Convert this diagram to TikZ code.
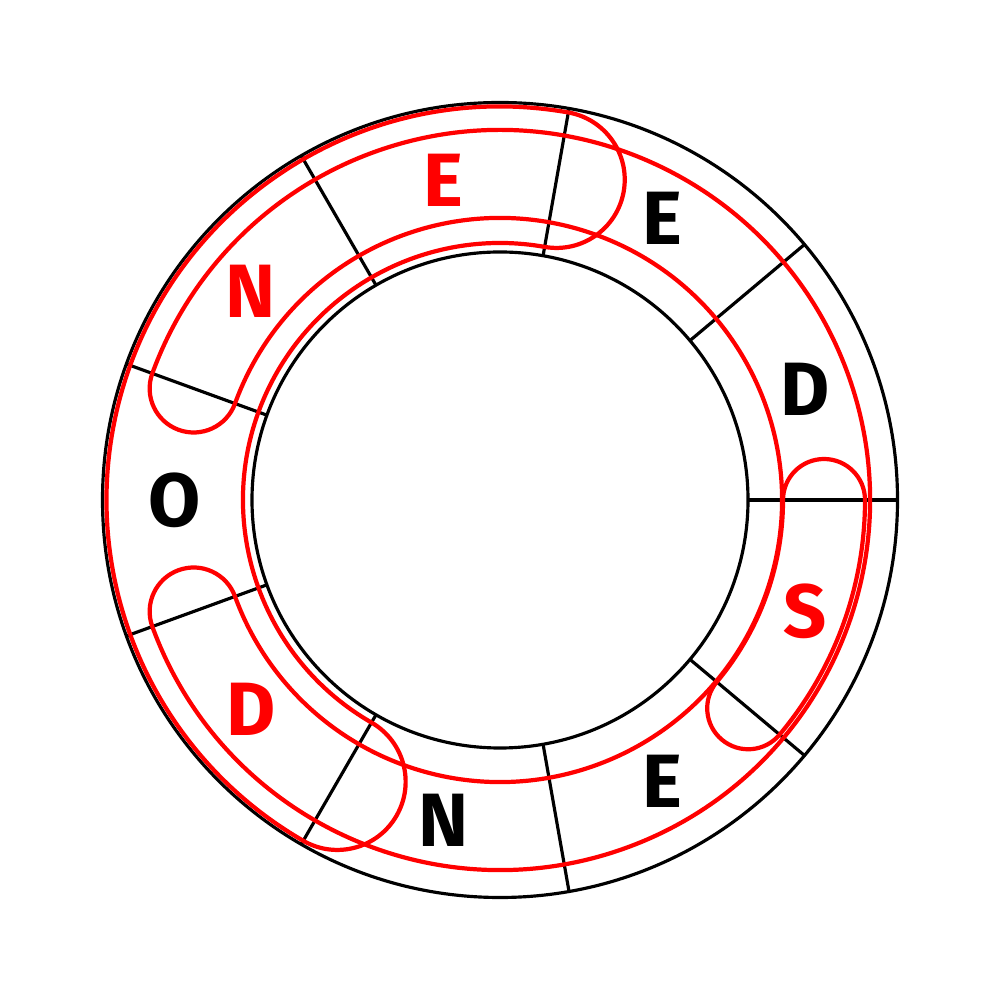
\documentclass[tikz,border=0pt]{standalone}
\usepackage{fontspec}
\setmainfont{Fira Sans}
\begin{document}
\begin{tikzpicture}[
  ringline/.style={draw=black,line width=0.9pt},
  capsule/.style={draw=red,line width=1.2pt},
  letter/.style={font=\bfseries\fontsize{21.5}{24}\selectfont,inner sep=0pt,anchor=center},
]
\useasboundingbox (-5,-5) rectangle (5,5);
% ring
\draw[ringline] (0,0) circle[radius=3.975cm];
\draw[ringline] (0,0) circle[radius=2.48cm];
\foreach \a in {0,40,...,320}{
  \draw[ringline] (\a:2.48cm) -- (\a:3.975cm);
}
% capsules: start angle a, end angle b (CCW), centre radius, half width
\newcommand{\capsulepath}[4]{%
  \draw[capsule] (#1:#3cm+#4cm)
    arc[start angle=#1,end angle=#2,radius=#3cm+#4cm]
    arc[start angle=#2,end angle=#2+180,radius=#4cm]
    arc[start angle=#2,end angle=#1,radius=#3cm-#4cm]
    arc[start angle=#1+180,end angle=#1+360,radius=#4cm]
    -- cycle;}
\capsulepath{80}{240}{3.2525}{0.6825}
\capsulepath{200}{520}{3.26}{0.44}
\capsulepath{320}{360}{3.24}{0.41}
% letters
\node[letter,text=red]   (l100) at (100:3.25cm) {E};
\node[letter,text=black] (l60)  at (60:3.25cm)  {E};
\node[letter,text=black] (l20)  at (20:3.25cm)  {D};
\node[letter,text=red]   (l340) at (340:3.25cm) {S};
\node[letter,text=black] (l300) at (300:3.25cm) {E};
\node[letter,text=black] (l260) at (260:3.25cm) {N};
\node[letter,text=red]   (l220) at (220:3.25cm) {D};
\node[letter,text=black] (l180) at (180:3.25cm) {O};
\node[letter,text=red]   (l140) at (140:3.25cm) {N};
\end{tikzpicture}
\end{document}
